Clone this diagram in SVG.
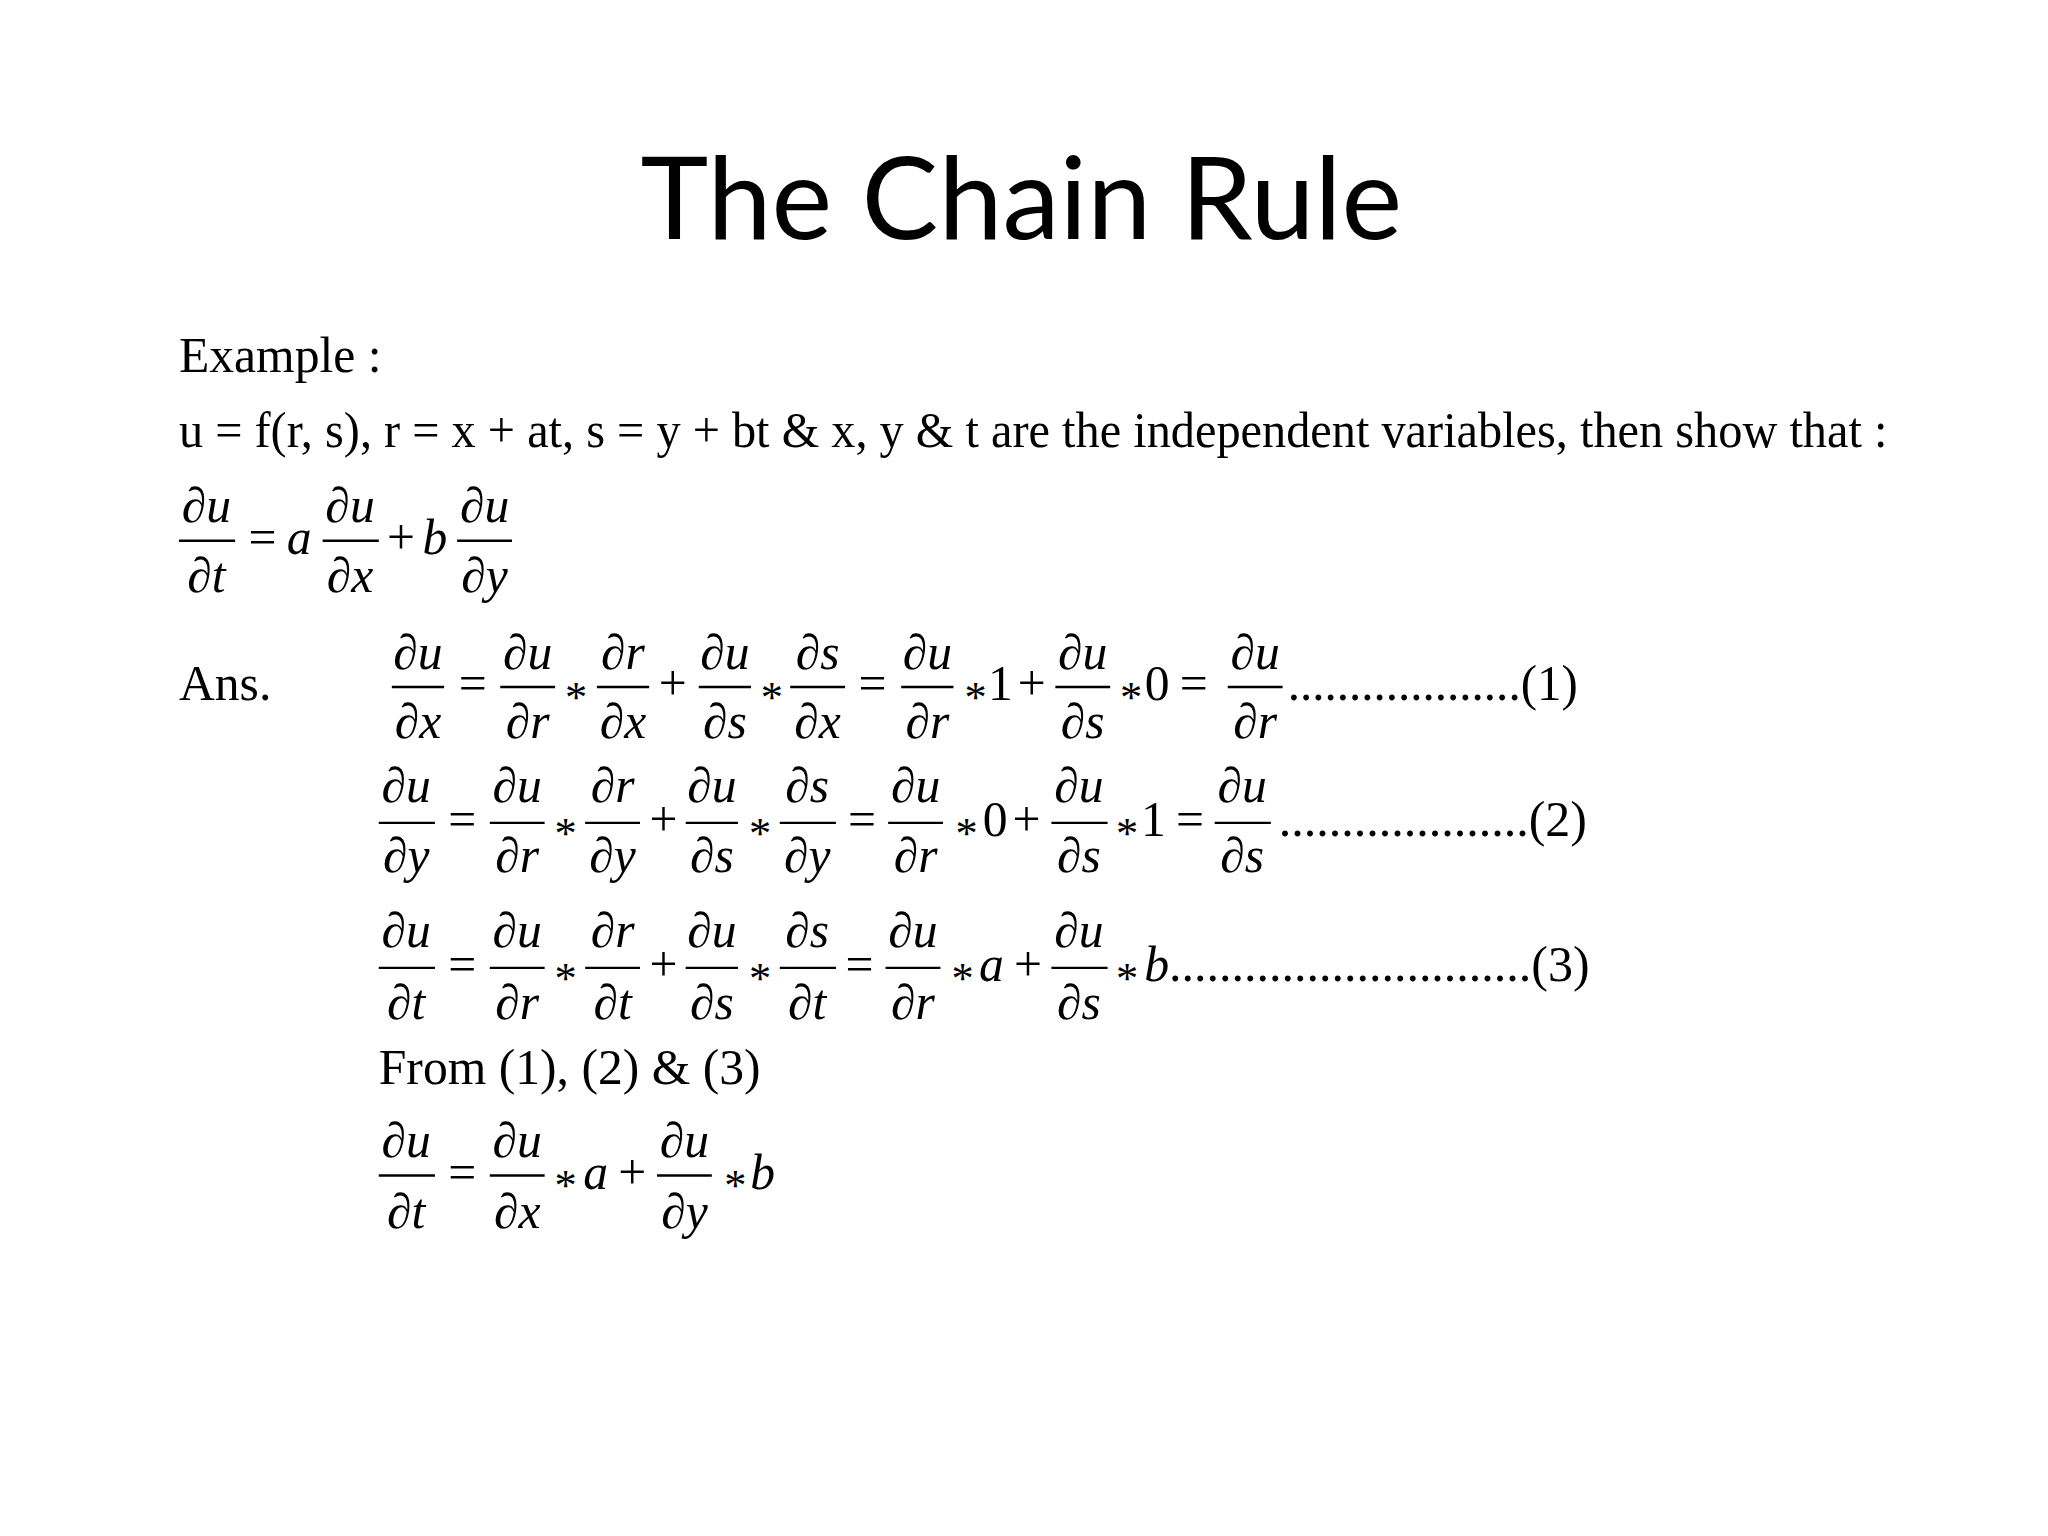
<svg xmlns="http://www.w3.org/2000/svg" width="2048" height="1536" viewBox="0 0 2048 1536">
<style>
.t{font-family:"Liberation Serif","Times New Roman",serif;font-size:38px;fill:#000}
.m{font-family:"Liberation Serif","Times New Roman",serif;font-size:38px;fill:#000;text-anchor:middle}
.a{font-family:"Liberation Serif","Times New Roman",serif;font-size:34px;fill:#000;text-anchor:middle}
.f{font-family:"Liberation Serif","Times New Roman",serif;font-size:38px;font-style:italic;fill:#000;text-anchor:middle}
.i{font-style:italic}
.b{stroke:#000;stroke-width:1.8}
</style>
<rect width="2048" height="1536" fill="#fff"/>
<g transform="scale(1.30612)">
<g id="title"><text x="782" y="183" text-anchor="middle" style="font-family:Lato,'Open Sans',sans-serif;font-size:88px">The Chain Rule</text></g>
<g id="statement">
<text class="t" x="137" y="285">Example :</text>
<text class="t" x="137" y="342" textLength="1308" lengthAdjust="spacingAndGlyphs">u = f(r, s), r = x + at, s = y + bt &amp; x, y &amp; t are the independent variables, then show that :</text>
</g>
<g id="eq0">
<text class="f" x="158" y="400">∂u</text><line class="b" x1="137" y1="414" x2="180" y2="414"/><text class="f" x="158" y="453">∂t</text>
<text class="m" x="201" y="424">=</text><text class="f" x="229" y="424">a</text>
<text class="f" x="268" y="400">∂u</text><line class="b" x1="247" y1="414" x2="290" y2="414"/><text class="f" x="268" y="453">∂x</text>
<text class="m" x="307" y="424">+</text><text class="f" x="333" y="424">b</text>
<text class="f" x="371" y="400">∂u</text><line class="b" x1="350" y1="414" x2="392" y2="414"/><text class="f" x="371" y="453">∂y</text>
</g>
<g id="eq1">
<text class="t" x="137" y="536">Ans.</text>
<text class="f" x="320" y="512">∂u</text><line class="b" x1="300" y1="526" x2="340" y2="526"/><text class="f" x="320" y="565">∂x</text>
<text class="m" x="362" y="536">=</text>
<text class="f" x="404" y="512">∂u</text><line class="b" x1="383" y1="526" x2="425" y2="526"/><text class="f" x="404" y="565">∂r</text>
<text class="a" x="441" y="545">*</text>
<text class="f" x="477" y="512">∂r</text><line class="b" x1="457" y1="526" x2="497" y2="526"/><text class="f" x="477" y="565">∂x</text>
<text class="m" x="515" y="536">+</text>
<text class="f" x="555" y="512">∂u</text><line class="b" x1="535" y1="526" x2="575" y2="526"/><text class="f" x="555" y="565">∂s</text>
<text class="a" x="591" y="545">*</text>
<text class="f" x="626" y="512">∂s</text><line class="b" x1="605" y1="526" x2="647" y2="526"/><text class="f" x="626" y="565">∂x</text>
<text class="m" x="668" y="536">=</text>
<text class="f" x="710" y="512">∂u</text><line class="b" x1="690" y1="526" x2="730" y2="526"/><text class="f" x="710" y="565">∂r</text>
<text class="a" x="747" y="545">*</text><text class="m" x="766" y="536">1</text><text class="m" x="790" y="536">+</text>
<text class="f" x="829" y="512">∂u</text><line class="b" x1="808" y1="526" x2="850" y2="526"/><text class="f" x="829" y="565">∂s</text>
<text class="a" x="866" y="545">*</text><text class="m" x="886" y="536">0</text><text class="m" x="914" y="536">=</text>
<text class="f" x="961" y="512">∂u</text><line class="b" x1="940" y1="526" x2="982" y2="526"/><text class="f" x="961" y="565">∂r</text>
<text class="t" x="986" y="536" textLength="222" lengthAdjust="spacingAndGlyphs">...................(1)</text>
</g>
<g id="eq2">
<text class="f" x="311" y="614">∂u</text><line class="b" x1="290" y1="630" x2="333" y2="630"/><text class="f" x="311" y="668">∂y</text>
<text class="m" x="354" y="640">=</text>
<text class="f" x="396" y="614">∂u</text><line class="b" x1="375" y1="630" x2="417" y2="630"/><text class="f" x="396" y="668">∂r</text>
<text class="a" x="433" y="649">*</text>
<text class="f" x="469" y="614">∂r</text><line class="b" x1="448" y1="630" x2="490" y2="630"/><text class="f" x="469" y="668">∂y</text>
<text class="m" x="508" y="640">+</text>
<text class="f" x="545" y="614">∂u</text><line class="b" x1="525" y1="630" x2="565" y2="630"/><text class="f" x="545" y="668">∂s</text>
<text class="a" x="582" y="649">*</text>
<text class="f" x="618" y="614">∂s</text><line class="b" x1="597" y1="630" x2="640" y2="630"/><text class="f" x="618" y="668">∂y</text>
<text class="m" x="660" y="640">=</text>
<text class="f" x="701" y="614">∂u</text><line class="b" x1="680" y1="630" x2="722" y2="630"/><text class="f" x="701" y="668">∂r</text>
<text class="a" x="740" y="649">*</text><text class="m" x="762" y="640">0</text><text class="m" x="786" y="640">+</text>
<text class="f" x="826" y="614">∂u</text><line class="b" x1="805" y1="630" x2="848" y2="630"/><text class="f" x="826" y="668">∂s</text>
<text class="a" x="863" y="649">*</text><text class="m" x="883" y="640">1</text><text class="m" x="911" y="640">=</text>
<text class="f" x="951" y="614">∂u</text><line class="b" x1="930" y1="630" x2="973" y2="630"/><text class="f" x="951" y="668">∂s</text>
<text class="t" x="979" y="640" textLength="236" lengthAdjust="spacingAndGlyphs">....................(2)</text>
</g>
<g id="eq3">
<text class="f" x="311" y="725">∂u</text><line class="b" x1="290" y1="741" x2="333" y2="741"/><text class="f" x="311" y="780">∂t</text>
<text class="m" x="354" y="751">=</text>
<text class="f" x="396" y="725">∂u</text><line class="b" x1="375" y1="741" x2="417" y2="741"/><text class="f" x="396" y="780">∂r</text>
<text class="a" x="433" y="760">*</text>
<text class="f" x="469" y="725">∂r</text><line class="b" x1="448" y1="741" x2="490" y2="741"/><text class="f" x="469" y="780">∂t</text>
<text class="m" x="508" y="751">+</text>
<text class="f" x="545" y="725">∂u</text><line class="b" x1="525" y1="741" x2="565" y2="741"/><text class="f" x="545" y="780">∂s</text>
<text class="a" x="582" y="760">*</text>
<text class="f" x="618" y="725">∂s</text><line class="b" x1="597" y1="741" x2="640" y2="741"/><text class="f" x="618" y="780">∂t</text>
<text class="m" x="658" y="751">=</text>
<text class="f" x="699" y="725">∂u</text><line class="b" x1="678" y1="741" x2="720" y2="741"/><text class="f" x="699" y="780">∂r</text>
<text class="a" x="737" y="760">*</text><text class="f" x="759" y="751">a</text><text class="m" x="787" y="751">+</text>
<text class="f" x="826" y="725">∂u</text><line class="b" x1="805" y1="741" x2="848" y2="741"/><text class="f" x="826" y="780">∂s</text>
<text class="a" x="863" y="760">*</text>
<text class="t" x="876" y="751" textLength="341" lengthAdjust="spacingAndGlyphs"><tspan class="i">b</tspan>.............................(3)</text>
</g>
<g id="conclusion">
<text class="t" x="290" y="830">From (1), (2) &amp; (3)</text>
<text class="f" x="311" y="886">∂u</text><line class="b" x1="290" y1="900" x2="333" y2="900"/><text class="f" x="311" y="940">∂t</text>
<text class="m" x="354" y="910">=</text>
<text class="f" x="396" y="886">∂u</text><line class="b" x1="375" y1="900" x2="417" y2="900"/><text class="f" x="396" y="940">∂x</text>
<text class="a" x="433" y="919">*</text><text class="f" x="456" y="910">a</text><text class="m" x="484" y="910">+</text>
<text class="f" x="524" y="886">∂u</text><line class="b" x1="503" y1="900" x2="545" y2="900"/><text class="f" x="524" y="940">∂y</text>
<text class="a" x="563" y="919">*</text><text class="f" x="584" y="910">b</text>
</g>
</g>
</svg>
